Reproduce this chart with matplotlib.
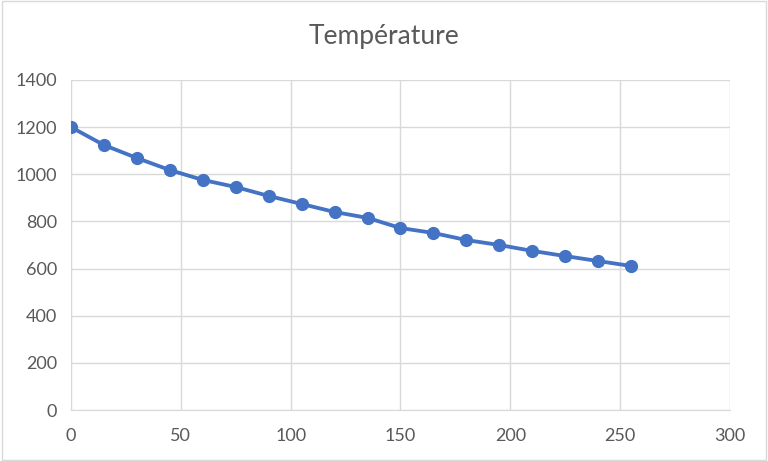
import matplotlib.pyplot as plt

temps_x = [0, 15, 30, 45, 60, 75, 90, 105, 120, 135, 150, 165, 180, 195, 210, 225, 240, 255]
temps_y = [1200, 1124, 1069, 1018, 976, 946, 908, 874, 840, 815, 772, 751, 721, 700, 675, 653, 632, 611]
x_ticks = [0, 50, 100, 150, 200, 250, 300]
y_ticks = [0, 200, 400, 600, 800, 1000, 1200, 1400]

plt.rcParams['font.family'] = ['Lato', 'DejaVu Sans']

fig = plt.figure(figsize=(7.68, 4.61), dpi=100)
ax = fig.add_axes([0.0924, 0.1106, 0.8581, 0.7159])

ax.plot(temps_x, temps_y, color="#4472C4", linewidth=2.75, marker="o", markersize=8.5, zorder=3)

ax.set_xlim(0, 300)
ax.set_ylim(0, 1400)
ax.set_xticks(x_ticks)
ax.set_yticks(y_ticks)
ax.grid(True, color="#D9D9D9", linewidth=1)
ax.set_axisbelow(True)
for s in ax.spines.values():
    s.set_visible(False)
ax.spines["bottom"].set_visible(True)
ax.spines["bottom"].set_color("#D9D9D9")
ax.spines["left"].set_visible(True)
ax.spines["left"].set_color("#D9D9D9")
ax.tick_params(length=0, labelsize=13, labelcolor="#595959")
ax.tick_params(axis="x", pad=13)
ax.tick_params(axis="y", pad=10)

fig.text(0.5, 0.92, "Température", ha="center", va="center", fontsize=19, color="#595959")

# outer chart border
fig.patches.append(plt.Rectangle((0.002, 0.003), 0.996, 0.994, transform=fig.transFigure,
                                 fill=False, edgecolor="#D9D9D9", linewidth=1))

fig.savefig("out.png", dpi=100)
